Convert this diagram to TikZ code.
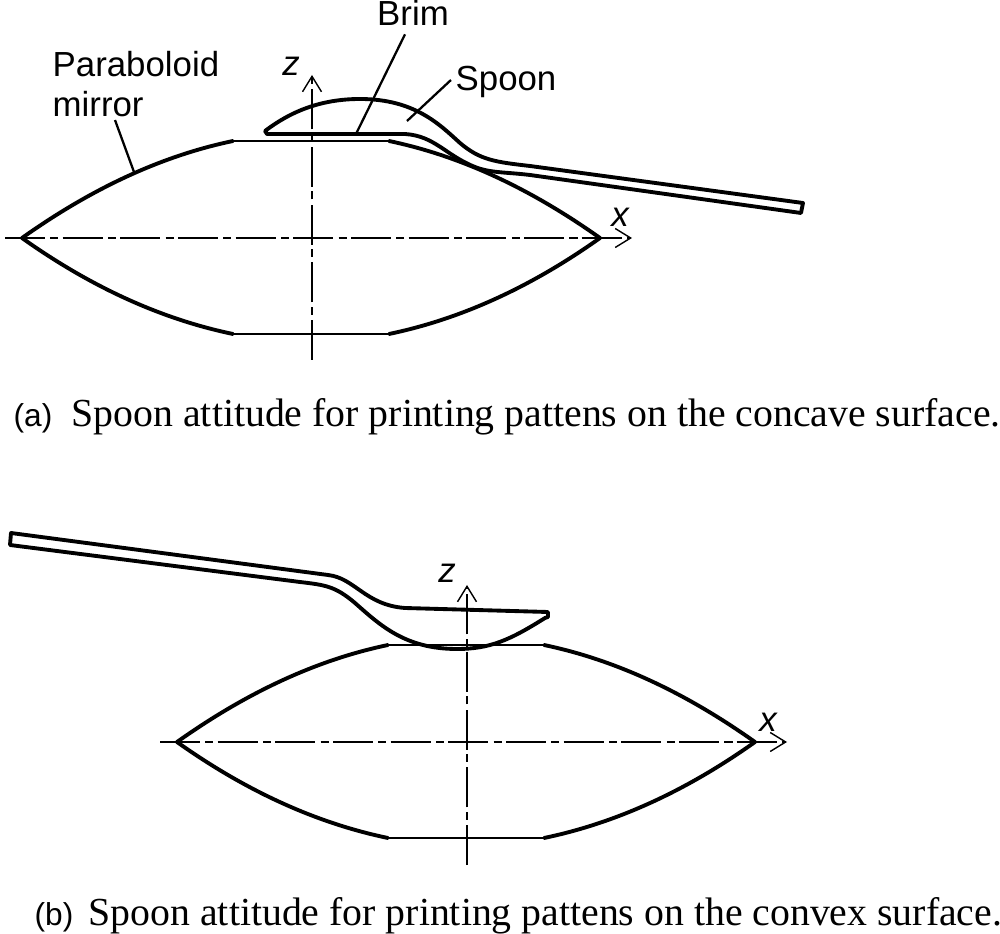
\documentclass[tikz,border=0pt]{standalone}
\usepackage{fontspec}
\setmainfont{Liberation Serif}
\setsansfont{Liberation Sans}
\usetikzlibrary{arrows.meta}
\newcommand{\thinw}{0.4pt}
\newcommand{\thickw}{1.1pt}
\newcommand{\labelsize}{\fontsize{9.9}{11.4}\selectfont\sffamily}
\newcommand{\tagsize}{\fontsize{9}{10}\selectfont\sffamily}
\newcommand{\captionsize}{\fontsize{11.31}{13}\selectfont}
\newcommand{\drawmirror}{
  \draw[edgeline] (233,141) .. controls (161,156) and (91,189) .. (22,238)
    .. controls (91,287) and (161,319) .. (233,334);
  \draw[edgeline] (389,141) .. controls (461,156) and (531,189) .. (600,238)
    .. controls (531,287) and (461,319) .. (389,334);
  \draw[flatline] (233,141) -- (389,141);
  \draw[flatline] (233,334) -- (389,334);
}
\tikzset{
  edgeline/.style={line width=\thickw,line join=round,line cap=round},
  flatline/.style={line width=\thinw},
  leader/.style={line width=0.65pt},
  axisline/.style={line width=\thinw,-{Straight Barb[length=4.4pt,width=5.4pt]},
    dash pattern=on 11.4pt off 1.5pt on 2.3pt off 1.2pt},
  labeltext/.style={font=\labelsize,inner sep=0pt},
  axistext/.style={font=\labelsize\itshape,inner sep=0pt},
  tagtext/.style={font=\tagsize,inner sep=0pt,anchor=base west},
  captiontext/.style={font=\captionsize,inner sep=0pt,anchor=base west}
}
\begin{document}
\begin{tikzpicture}[x=0.01cm,y=-0.01cm]
    \useasboundingbox (0,0) rectangle (1000,934);

    \coordinate (xastart) at (5,238);
    \coordinate (xaend) at (632,238);
    \coordinate (zastart) at (312,360);
    \coordinate (zaend) at (312,75);
    \draw[axisline] (xastart) -- (xaend);
    \draw[axisline] (zastart) -- (zaend);
    \drawmirror

    \draw[edgeline] (265,131) .. controls (290,112) and (320,99) .. (360,99)
      .. controls (415,99) and (440,125) .. (460,143)
      .. controls (480,160) and (495,162) .. (530,166)
      -- (803,203) -- (801,213) -- (530,175)
      .. controls (505,172) and (490,173) .. (475,167)
      .. controls (445,155) and (435,136) .. (405,134)
      -- (267,134) -- cycle;

    \node[axistext] (zalabel) at (291,66) {z};
    \node[axistext] (xalabel) at (620,217) {x};
    \node[labeltext] (brimlabel) at (413,13) {Brim};
    \node[labeltext] (spoonlabel) at (506,82) {Spoon};
    \node[labeltext,align=left,anchor=base west] (mirrorlabel) at (52,117)
      {Paraboloid\\mirror};

    \coordinate (brimtip) at (356,134);
    \coordinate (spoontip) at (407,121);
    \coordinate (mirrortip) at (134,172);
    \draw[leader] (brimlabel.south) ++(-8,8) coordinate (brimfoot) -- (brimtip);
    \draw[leader] (spoonlabel.west) ++(-4,-2) coordinate (spoonfoot) -- (spoontip);
    \draw[leader] (mirrorlabel.south west) ++(63,2) coordinate (mirrorfoot) -- (mirrortip);

    \node[tagtext] (tagA) at (13,427) {(a)};
    \node[captiontext] (captionA) at (71,427)
      {Spoon attitude for printing pattens on the concave surface.};

    \coordinate (xbstart) at (160,742);
    \coordinate (xbend) at (787,742);
    \coordinate (zbstart) at (467,865);
    \coordinate (zbend) at (467,585);
    \draw[axisline] (xbstart) -- (xbend);
    \draw[axisline] (zbstart) -- (zbend);
    \begin{scope}[shift={(155,504)}]
      \drawmirror
    \end{scope}

    \draw[edgeline] (11,533) -- (328,575)
      .. controls (355,578) and (365,605) .. (405,608)
      -- (548,612) -- (548,617) -- (545,618)
      .. controls (510,640) and (490,649) .. (457,649)
      .. controls (405,649) and (380,625) .. (355,603)
      .. controls (335,586) and (325,585) .. (300,582)
      -- (10,545) -- cycle;

    \node[axistext] (zblabel) at (447,573) {z};
    \node[axistext] (xblabel) at (768,722) {x};

    \node[tagtext] (tagB) at (34,925) {(b)};
    \node[captiontext] (captionB) at (88,925)
      {Spoon attitude for printing pattens on the convex surface.};
  \end{tikzpicture}
\end{document}
